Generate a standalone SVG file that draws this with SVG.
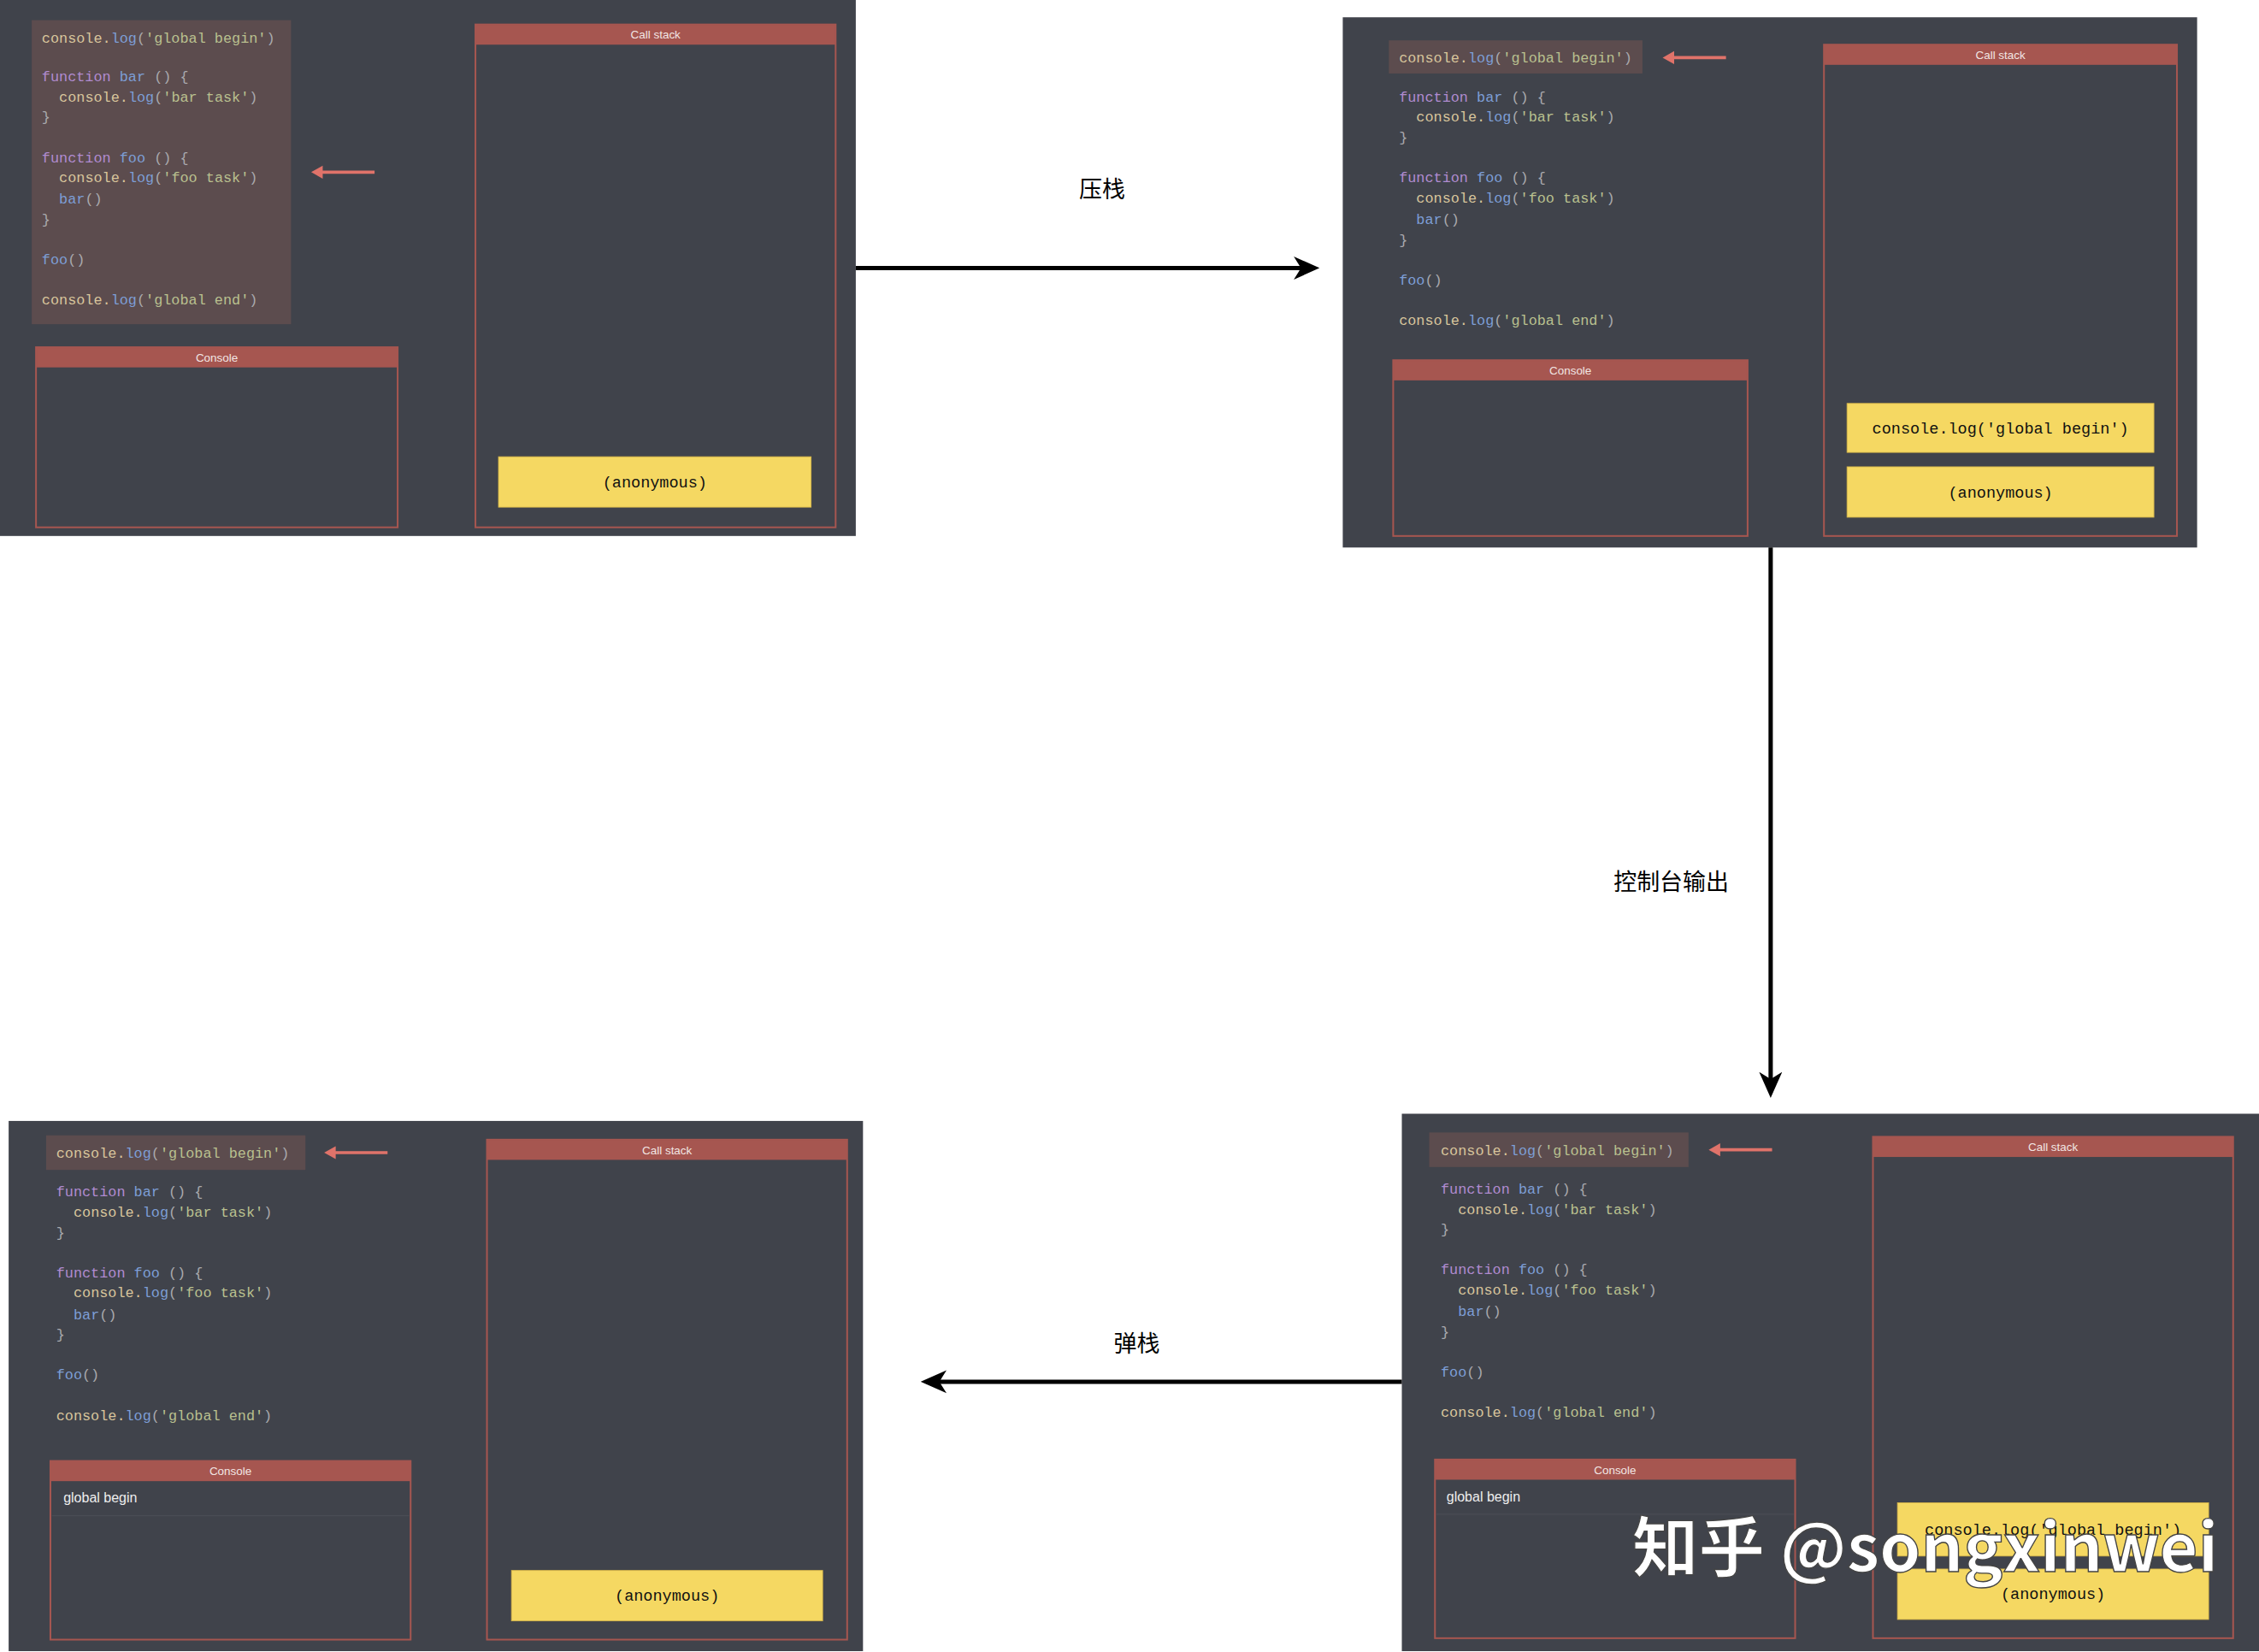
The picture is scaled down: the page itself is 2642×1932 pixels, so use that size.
<svg xmlns="http://www.w3.org/2000/svg" width="2642" height="1932" viewBox="0 0 2642 1932">
<defs>
<style>
.bg{fill:#40434b}
.hl{fill:#5c4c4e}
.frame{fill:none;stroke:#a65650;stroke-width:1.2}
.hdr{fill:#a65650}
.ht{font-family:"Liberation Sans",Arial,sans-serif;font-size:8px;fill:#f2e6e4;text-anchor:middle}
.code{font-family:"Liberation Mono","DejaVu Sans Mono",monospace;font-size:10px}
.c{fill:#d8c59c}.l{fill:#7d9ed6}.s{fill:#b9c08f}.p{fill:#a9a9ad}.f{fill:#b08bd0}.n{fill:#7d9ed6}
.y{fill:#f5d862;stroke:#d9b84a;stroke-width:0.5}
.yt{font-family:"Liberation Mono","DejaVu Sans Mono",monospace;font-size:11px;fill:#111;text-anchor:middle}
.ct{font-family:"Liberation Sans",Arial,sans-serif;font-size:9.5px;fill:#eee}
.ra{stroke:#e0736a;stroke-width:2.2}
.conn{stroke:#000;stroke-width:3;fill:none}
.lbl{font-family:"Noto Sans CJK SC","Liberation Sans",sans-serif;font-size:16px;fill:#000;text-anchor:middle}
</style>
<marker id="ah" markerWidth="18" markerHeight="18" refX="14" refY="9" orient="auto" markerUnits="userSpaceOnUse"><path d="M0,1 L18,9 L0,17 L5,9 Z" fill="#000"/></marker>
<g id="codeblk">
<text class="code" x="0" y="3.5"><tspan class="c">console.</tspan><tspan class="l">log</tspan><tspan class="p">(</tspan><tspan class="s">'global begin'</tspan><tspan class="p">)</tspan></text>
<text class="code" x="0" y="30.5"><tspan class="f">function</tspan><tspan class="n"> bar</tspan><tspan class="p"> () {</tspan></text>
<text class="code" x="12" y="44.5"><tspan class="c">console.</tspan><tspan class="l">log</tspan><tspan class="p">(</tspan><tspan class="s">'bar task'</tspan><tspan class="p">)</tspan></text>
<text class="code p" x="0" y="58.5">}</text>
<text class="code" x="0" y="86.5"><tspan class="f">function</tspan><tspan class="n"> foo</tspan><tspan class="p"> () {</tspan></text>
<text class="code" x="12" y="100.5"><tspan class="c">console.</tspan><tspan class="l">log</tspan><tspan class="p">(</tspan><tspan class="s">'foo task'</tspan><tspan class="p">)</tspan></text>
<text class="code" x="12" y="115.5"><tspan class="n">bar</tspan><tspan class="p">()</tspan></text>
<text class="code p" x="0" y="129.5">}</text>
<text class="code" x="0" y="157.5"><tspan class="n">foo</tspan><tspan class="p">()</tspan></text>
<text class="code" x="0" y="185.5"><tspan class="c">console.</tspan><tspan class="l">log</tspan><tspan class="p">(</tspan><tspan class="s">'global end'</tspan><tspan class="p">)</tspan></text>
</g>
</defs>
<rect width="2642" height="1932" fill="#fff"/>
<g transform="scale(1.685)">
<g id="panel1">
<rect class="bg" x="0" y="0" width="594" height="372"/>
<rect class="hl" x="22" y="14" width="180" height="211"/>
<use href="#codeblk" x="29" y="26"/>
<line class="ra" x1="260" y1="119.5" x2="222" y2="119.5"/><path d="M216,119.5 L224,115 L224,124 Z" fill="#e0736a"/>
<rect class="hdr" x="330" y="17" width="250" height="14"/>
<text class="ht" x="455" y="27">Call stack</text>
<rect class="frame" x="330" y="17" width="250" height="349"/>
<rect class="y" x="346" y="317" width="217" height="35"/>
<text class="yt" x="454.5" y="338.5">(anonymous)</text>
<rect class="hdr" x="25" y="241" width="251" height="14"/>
<text class="ht" x="150.5" y="251">Console</text>
<rect class="frame" x="25" y="241" width="251" height="125"/>
</g>
<g id="panel2">
<rect class="bg" x="932" y="12" width="593" height="368"/>
<rect class="hl" x="964" y="28" width="176" height="23"/>
<use href="#codeblk" x="971" y="40"/>
<line class="ra" x1="1198" y1="40" x2="1160" y2="40"/><path d="M1154,40 L1162,35.5 L1162,44.5 Z" fill="#e0736a"/>
<rect class="hdr" x="1266" y="31" width="245" height="14"/>
<text class="ht" x="1388.5" y="41">Call stack</text>
<rect class="frame" x="1266" y="31" width="245" height="341"/>
<rect class="y" x="1282" y="280" width="213" height="34"/>
<text class="yt" x="1388.5" y="301">console.log('global begin')</text>
<rect class="y" x="1282" y="324" width="213" height="35"/>
<text class="yt" x="1388.5" y="345.5">(anonymous)</text>
<rect class="hdr" x="967" y="250" width="246" height="14"/>
<text class="ht" x="1090" y="260">Console</text>
<rect class="frame" x="967" y="250" width="246" height="122"/>
</g>
<g id="panel3">
<rect class="bg" x="973" y="773" width="595" height="373"/>
<rect class="hl" x="992" y="786" width="180" height="24"/>
<use href="#codeblk" x="1000" y="798"/>
<line class="ra" x1="1230" y1="798" x2="1192" y2="798"/><path d="M1186,798 L1194,793.5 L1194,802.5 Z" fill="#e0736a"/>
<rect class="hdr" x="1300" y="789" width="250" height="14"/>
<text class="ht" x="1425" y="799">Call stack</text>
<rect class="frame" x="1300" y="789" width="250" height="348"/>
<rect class="y" x="1317" y="1043" width="216" height="37"/>
<text class="yt" x="1425" y="1065">console.log('global begin')</text>
<rect class="y" x="1317" y="1089" width="216" height="35"/>
<text class="yt" x="1425" y="1110">(anonymous)</text>
<rect class="hdr" x="996" y="1013" width="250" height="14"/>
<text class="ht" x="1121" y="1023">Console</text>
<rect class="frame" x="996" y="1013" width="250" height="124"/>
<text class="ct" x="1004" y="1042">global begin</text>
<line x1="997" y1="1051" x2="1245" y2="1051" stroke="#4a4d55" stroke-width="0.8"/>
<text x="1133" y="1091" font-family="Noto Sans CJK SC,sans-serif" font-size="46" font-weight="bold" fill="#fff" stroke="#444" stroke-width="0.8">知乎 @songxinwei</text>
</g>
<g id="panel4">
<rect class="bg" x="6" y="778" width="593" height="368"/>
<rect class="hl" x="32" y="788" width="180" height="24"/>
<use href="#codeblk" x="39" y="800"/>
<line class="ra" x1="269" y1="800" x2="231" y2="800"/><path d="M225,800 L233,795.5 L233,804.5 Z" fill="#e0736a"/>
<rect class="hdr" x="338" y="791" width="250" height="14"/>
<text class="ht" x="463" y="801">Call stack</text>
<rect class="frame" x="338" y="791" width="250" height="347"/>
<rect class="y" x="355" y="1090" width="216" height="35"/>
<text class="yt" x="463" y="1111">(anonymous)</text>
<rect class="hdr" x="35" y="1014" width="250" height="14"/>
<text class="ht" x="160" y="1024">Console</text>
<rect class="frame" x="35" y="1014" width="250" height="124"/>
<text class="ct" x="44" y="1043">global begin</text>
<line x1="36" y1="1052" x2="284" y2="1052" stroke="#4a4d55" stroke-width="0.8"/>
</g>
<g id="connectors">
<line class="conn" x1="594" y1="186" x2="912" y2="186" marker-end="url(#ah)"/>
<text class="lbl" x="765" y="137">压栈</text>
<line class="conn" x1="1229" y1="380" x2="1229" y2="758" marker-end="url(#ah)"/>
<text class="lbl" x="1160" y="618">控制台输出</text>
<line class="conn" x1="973" y1="959" x2="643" y2="959" marker-end="url(#ah)"/>
<text class="lbl" x="789" y="938">弹栈</text>
</g>
</g>
</svg>
